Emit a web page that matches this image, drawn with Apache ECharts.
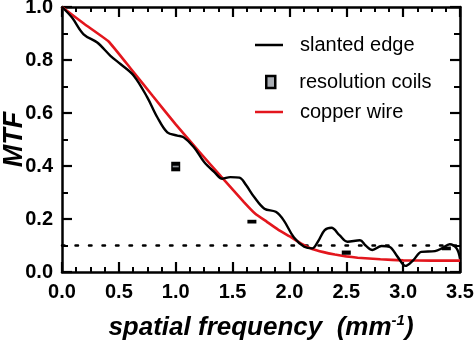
<!DOCTYPE html>
<html>
<head>
<meta charset="utf-8">
<script src="https://cdn.jsdelivr.net/npm/echarts@6/dist/echarts.min.js"></script>
<style>
html,body{margin:0;padding:0;background:#fff;}
#c{width:474px;height:344px;}
</style>
</head>
<body>
<div id="c"></div>
<script>
// Slanted edge MTF [spatial frequency, MTF]
const slantedEdgeX = [0,0.088,0.19,0.31,0.426,0.514,0.631,0.75,0.838,0.926,1.014,1.07,1.16,1.25,1.34,1.41,1.48,1.56,1.62,1.69,1.78,1.88,1.95,2.04,2.13,2.2,2.25,2.31,2.37,2.44,2.51,2.62,2.67,2.73,2.81,2.88,2.95,3.02,3.09,3.16,3.28,3.34,3.41,3.47,3.5];
const slantedEdgeY = [1.0,0.96,0.897,0.866,0.816,0.785,0.741,0.659,0.584,0.527,0.515,0.508,0.471,0.415,0.377,0.352,0.358,0.356,0.327,0.283,0.239,0.227,0.195,0.13,0.095,0.089,0.114,0.158,0.167,0.139,0.114,0.12,0.1,0.083,0.098,0.095,0.058,0.023,0.045,0.076,0.079,0.089,0.105,0.089,0.05];
// Copper wire MTF
const copperX = [0,0.2,0.41,0.6,0.8,1.0,1.2,1.4,1.6,1.7,1.8,1.9,2.0,2.1,2.2,2.3,2.4,2.5,2.6,2.8,3.0,3.25,3.5];
const copperY = [1.0,0.935,0.87,0.77,0.663,0.557,0.457,0.36,0.264,0.22,0.19,0.16,0.135,0.108,0.087,0.075,0.066,0.059,0.054,0.048,0.044,0.043,0.043];
// Resolution coils: frequency, MTF, error
const coilsX = [1.0,1.67,2.5,3.38];
const coilsY = [0.398,0.19,0.073,0.089];
const coilsErr = [0.018,0.007,0.008,0.007];
// threshold line
const thresholdY = 0.1;
const xTicks = [0,0.5,1.0,1.5,2.0,2.5,3.0,3.5];
const yTicks = [0,0.2,0.4,0.6,0.8,1.0];

const FONT = "'Liberation Sans', Arial, sans-serif";
const zip = (a,b) => a.map((v,i)=>[v,b[i]]);

const chart = echarts.init(document.getElementById('c'));

const baseX = {
  type:'value', min:xTicks[0], max:xTicks[xTicks.length-1], interval:0.5,
  axisLine:{show:true, onZero:false, lineStyle:{color:'#000', width:2.5}},
  axisTick:{show:true, inside:true, length:10, lineStyle:{color:'#000', width:2.2}},
  minorTick:{show:true, splitNumber:4, length:5, lineStyle:{color:'#000', width:2}},
  splitLine:{show:false}
};
const baseY = {
  type:'value', min:yTicks[0], max:yTicks[yTicks.length-1], interval:0.2,
  axisLine:{show:true, onZero:false, lineStyle:{color:'#000', width:2.5}},
  axisTick:{show:true, inside:true, length:10, lineStyle:{color:'#000', width:2.2}},
  minorTick:{show:true, splitNumber:2, length:6, lineStyle:{color:'#000', width:2}},
  splitLine:{show:false}
};

const legendCommon = {
  orient:'vertical', padding:0, itemGap:0,
  textStyle:{fontFamily:FONT, fontSize:20, color:'#000', lineHeight:22}
};

chart.setOption({
  animation:false,
  backgroundColor:'#fff',
  grid:{left:62, right:14, top:7, bottom:72, containLabel:false, outerBoundsMode:'none'},
  xAxis:[
    Object.assign({}, baseX, {
      position:'bottom',
      axisLabel:{show:true, margin:10, fontFamily:FONT, fontSize:20, fontWeight:'bold', color:'#000', formatter:v=>v.toFixed(1)},
      name:'{a|spatial frequency  (mm}{s|-1}{a|)}',
      nameLocation:'middle', nameGap:41, nameMoveOverlap:false,
      nameTextStyle:{
        rich:{
          a:{fontFamily:FONT, fontSize:26, fontWeight:'bold', fontStyle:'italic', color:'#000', lineHeight:30},
          s:{fontFamily:FONT, fontSize:15, fontWeight:'bold', fontStyle:'italic', color:'#000', lineHeight:30, verticalAlign:'top', padding:[0,0,10,0]}
        }
      }
    }),
    Object.assign({}, baseX, {position:'top', axisLabel:{show:false}})
  ],
  yAxis:[
    Object.assign({}, baseY, {
      position:'left',
      axisLabel:{show:true, margin:9, fontFamily:FONT, fontSize:20, fontWeight:'bold', color:'#000', formatter:v=>v.toFixed(1)},
      name:'MTF', nameLocation:'middle', nameGap:34, nameRotate:90, nameMoveOverlap:false,
      nameTextStyle:{fontFamily:FONT, fontSize:27, fontWeight:'bold', fontStyle:'italic', color:'#000'}
    }),
    Object.assign({}, baseY, {position:'right', axisLabel:{show:false}})
  ],
  legend:[
    Object.assign({}, legendCommon, {
      left:255, top:34, itemWidth:28, itemHeight:14,
      textStyle:Object.assign({}, legendCommon.textStyle, {padding:[0,0,0,12]}),
      data:[{name:'slanted edge', icon:'path://M0,0L28,0L28,2.5L0,2.5Z', itemStyle:{color:'#000'}}]
    }),
    Object.assign({}, legendCommon, {
      left:265, top:71, itemWidth:9, itemHeight:12,
      textStyle:Object.assign({}, legendCommon.textStyle, {padding:[0,0,0,19]}),
      data:[{name:'resolution coils', icon:'rect', itemStyle:{color:'#a9adb3', borderColor:'#000', borderWidth:2.5}}]
    }),
    Object.assign({}, legendCommon, {
      left:255, top:101, itemWidth:28, itemHeight:14,
      textStyle:Object.assign({}, legendCommon.textStyle, {padding:[0,0,0,12]}),
      data:[{name:'copper wire', icon:'path://M0,0L28,0L28,2.5L0,2.5Z', itemStyle:{color:'#e3161d'}}]
    })
  ],
  series:[
    {
      name:'threshold', type:'line', symbol:'none', silent:true,
      data:[[xTicks[0],thresholdY],[xTicks[xTicks.length-1],thresholdY]],
      lineStyle:{color:'#000', width:2.5, type:[2.5,11], cap:'round'}, z:1
    },
    {
      name:'copper wire', type:'line', symbol:'none', smooth:0.1,
      data:zip(copperX, copperY),
      lineStyle:{color:'#e3161d', width:2.6}, itemStyle:{color:'#e3161d'}, z:2
    },
    {
      name:'slanted edge', type:'line', symbol:'none', smooth:0.35,
      data:zip(slantedEdgeX, slantedEdgeY),
      lineStyle:{color:'#000', width:2.4}, itemStyle:{color:'#000'}, z:3
    },
    {
      name:'resolution coils', type:'custom',
      data:coilsX.map((x,i)=>[x, coilsY[i], coilsErr[i]]),
      itemStyle:{color:'#a9adb3'},
      renderItem:function(params, api){
        const x = api.value(0), y = api.value(1), e = api.value(2);
        const top = api.coord([x, y+e]);
        const bot = api.coord([x, y-e]);
        const w = 9;
        const h = Math.max(bot[1]-top[1], 3);
        const cy = (top[1]+bot[1])/2;
        return {
          type:'group',
          children:[
            {type:'rect', shape:{x:top[0]-w/2, y:cy-h/2, width:w, height:h},
             style:{fill:'#000'}},
            {type:'rect', shape:{x:top[0]-w/2+1.5, y:cy-0.8, width:w-3, height:1.6},
             style:{fill: h>6 ? '#8c9096' : '#000'}}
          ]
        };
      },
      z:4
    }
  ]
});
</script>
</body>
</html>
